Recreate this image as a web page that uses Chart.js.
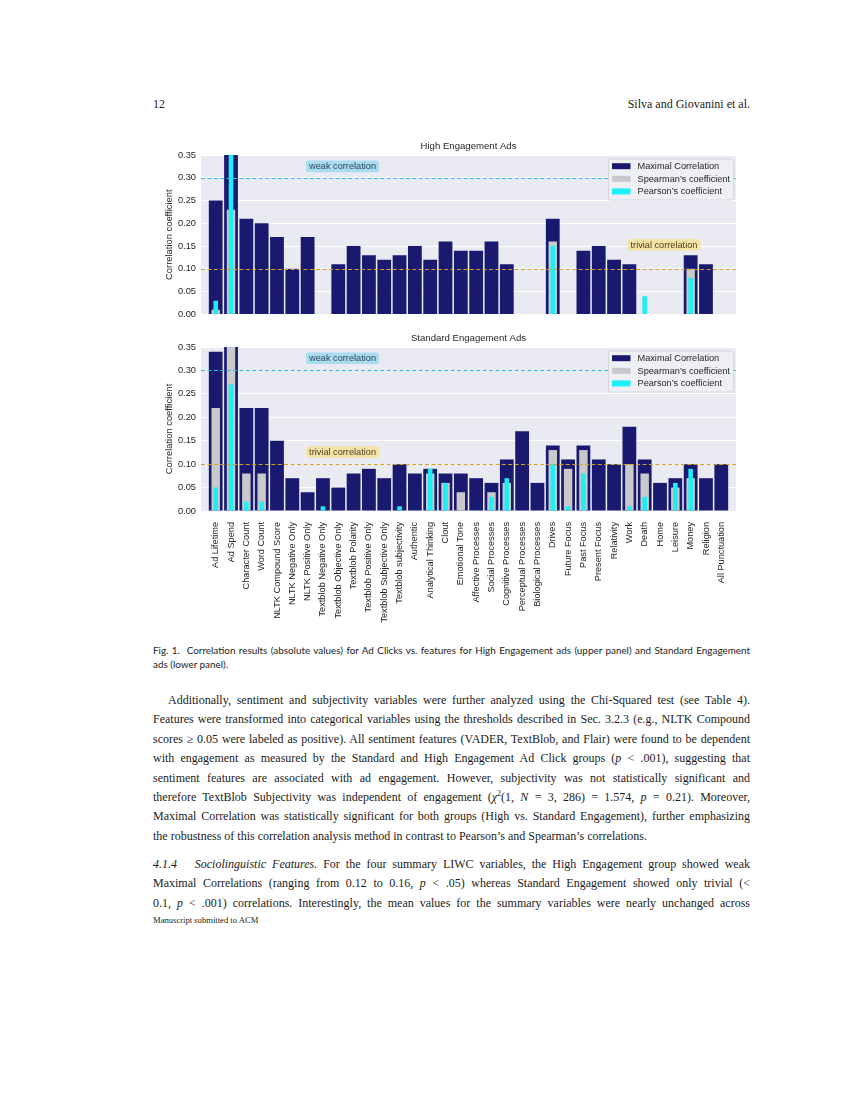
<!DOCTYPE html>
<html>
<head>
<meta charset="utf-8">
<script src="https://cdn.jsdelivr.net/npm/chart.js@4.4.1/dist/chart.umd.min.js"></script>
<style>
  body { margin: 0; width: 850px; height: 1100px; background: #fff; position: relative;
         font-family: "Liberation Serif", "DejaVu Serif", serif; color: #1b1b1b; }
  .abs { position: absolute; }
  canvas { position: absolute; }
  #top-chart { left: 150px; top: 133px; }
  #bottom-chart { left: 150px; top: 325px; }
  .runhead { top: 96px; font-size: 12px; line-height: 16px; }
  .caption { left: 153px; top: 643px; width: 597px; font-family: Lato, "Open Sans", sans-serif;
             font-size: 9.9px; line-height: 14.3px; }
  .text { left: 153px; width: 597px; font-size: 12px; line-height: 19.4px; }
  .j { text-align: justify; text-align-last: justify; }
  .footer { left: 153px; top: 913px; font-size: 8.6px; line-height: 14px; }
</style>
</head>
<body>
<div class="abs runhead" style="left:153px">12</div>
<div class="abs runhead" style="right:100px">Silva and Giovanini et al.</div>

<canvas id="top-chart" width="600" height="192"></canvas>
<canvas id="bottom-chart" width="600" height="302"></canvas>

<div class="abs caption">
  <div class="j">Fig. 1.&nbsp; Correlation results (absolute values) for Ad Clicks vs. features for High Engagement ads (upper panel) and Standard Engagement</div>
  <div>ads (lower panel).</div>
</div>

<div class="abs text" style="top:691px">
  <div class="j" style="padding-left:15px">Additionally, sentiment and subjectivity variables were further analyzed using the Chi-Squared test (see Table 4).</div>
  <div class="j">Features were transformed into categorical variables using the thresholds described in Sec. 3.2.3 (e.g., NLTK Compound</div>
  <div class="j">scores &ge; 0.05 were labeled as positive). All sentiment features (VADER, TextBlob, and Flair) were found to be dependent</div>
  <div class="j">with engagement as measured by the Standard and High Engagement Ad Click groups (<i>p</i> &lt; .001), suggesting that</div>
  <div class="j">sentiment features are associated with ad engagement. However, subjectivity was not statistically significant and</div>
  <div class="j">therefore TextBlob Subjectivity was independent of engagement (<i>&chi;</i><sup style="font-size:8px;line-height:0">2</sup>(1, <i>N</i> = 3, 286) = 1.574, <i>p</i> = 0.21). Moreover,</div>
  <div class="j">Maximal Correlation was statistically significant for both groups (High vs. Standard Engagement), further emphasizing</div>
  <div>the robustness of this correlation analysis method in contrast to Pearson&rsquo;s and Spearman&rsquo;s correlations.</div>
</div>

<div class="abs text" style="top:855px">
  <div class="j"><i>4.1.4&nbsp;&nbsp; Sociolinguistic Features.</i> For the four summary LIWC variables, the High Engagement group showed weak</div>
  <div class="j">Maximal Correlations (ranging from 0.12 to 0.16, <i>p</i> &lt; .05) whereas Standard Engagement showed only trivial (&lt;</div>
  <div class="j">0.1, <i>p</i> &lt; .001) correlations. Interestingly, the mean values for the summary variables were nearly unchanged across</div>
</div>
<div class="abs footer">Manuscript submitted to ACM</div>

<script>
// features on the x axis (same order in both panels)
const features = [
  'Ad Lifetime', 'Ad Spend', 'Character Count', 'Word Count', 'NLTK Compound Score',
  'NLTK Negative Only', 'NLTK Positive Only', 'Textblob Negative Only', 'Textblob Objective Only',
  'Textblob Polarity', 'Textblob Positive Only', 'Textblob Subjective Only', 'Textblob subjectivity',
  'Authentic', 'Analytical Thinking', 'Clout', 'Emotional Tone', 'Affective Processes',
  'Social Processes', 'Cognitive Processes', 'Perceptual Processes', 'Biological Processes',
  'Drives', 'Future Focus', 'Past Focus', 'Present Focus', 'Relativity', 'Work', 'Death',
  'Home', 'Leisure', 'Money', 'Religion', 'All Punctuation'
];

// High Engagement Ads (upper panel)
const highMaximal  = [0.25, 0.40, 0.21, 0.20, 0.17, 0.10, 0.17, 0, 0.11, 0.15, 0.13, 0.12, 0.13, 0.15, 0.12, 0.16, 0.14,
                      0.14, 0.16, 0.11, 0, 0, 0.21, 0, 0.14, 0.15, 0.12, 0.11, 0, 0, 0, 0.13, 0.11, 0];
const highSpearman = [0.01, 0.23, 0, 0, 0, 0, 0, 0, 0, 0, 0, 0, 0, 0, 0, 0, 0,
                      0, 0, 0, 0, 0, 0.16, 0, 0, 0, 0, 0, 0, 0, 0, 0.10, 0, 0];
const highPearson  = [0.03, 0.38, 0, 0, 0, 0, 0, 0, 0, 0, 0, 0, 0, 0, 0, 0, 0,
                      0, 0, 0, 0, 0, 0.15, 0, 0, 0, 0, 0, 0.04, 0, 0, 0.08, 0, 0];

// Standard Engagement Ads (lower panel)
const stdMaximal  = [0.34, 0.40, 0.22, 0.22, 0.15, 0.07, 0.04, 0.07, 0.05, 0.08, 0.09, 0.07, 0.10, 0.08, 0.09, 0.08, 0.08,
                     0.07, 0.06, 0.11, 0.17, 0.06, 0.14, 0.11, 0.14, 0.11, 0.10, 0.18, 0.11, 0.06, 0.07, 0.10, 0.07, 0.10];
const stdSpearman = [0.22, 0.38, 0.08, 0.08, 0, 0, 0, 0, 0, 0, 0, 0, 0, 0, 0.08, 0.06, 0.04,
                     0, 0.04, 0.06, 0, 0, 0.13, 0.09, 0.13, 0, 0, 0.10, 0.08, 0, 0.05, 0.07, 0, 0];
const stdPearson  = [0.05, 0.27, 0.02, 0.02, 0, 0, 0, 0.01, 0, 0, 0, 0, 0.01, 0, 0.09, 0.06, 0,
                     0, 0.03, 0.07, 0, 0, 0.10, 0.01, 0.08, 0, 0, 0.01, 0.03, 0, 0.06, 0.09, 0, 0];

// reference levels
const weakLevel = 0.30;
const trivialLevel = 0.10;

const SANS = '"Liberation Sans", Arial, sans-serif';
const INK = '#262626';
const NAVY = '#191970';
const GREY = '#c9c9c9';
const CYAN = '#1eeef6';

// background, threshold lines, notes, legend and title
const panelDecor = {
  id: 'panelDecor',
  beforeDraw(chart) {
    const { ctx, chartArea: a } = chart;
    ctx.save();
    ctx.fillStyle = '#eaeaf2';
    ctx.fillRect(a.left, a.top, a.right - a.left, a.bottom - a.top);
    ctx.restore();
  },
  afterDatasetsDraw(chart, args, opts) {
    const { ctx, chartArea: a, scales: { x, y } } = chart;

    ctx.save();
    ctx.beginPath();
    ctx.rect(a.left, a.top, a.right - a.left, a.bottom - a.top);
    ctx.clip();
    [[weakLevel, '#3ab6e8'], [trivialLevel, '#d4a02c']].forEach(([v, c]) => {
      const py = Math.round(y.getPixelForValue(v)) + 0.5;
      ctx.strokeStyle = c;
      ctx.lineWidth = 1.2;
      ctx.setLineDash([4, 2.4]);
      ctx.beginPath();
      ctx.moveTo(a.left, py);
      ctx.lineTo(a.right, py);
      ctx.stroke();
    });
    ctx.setLineDash([]);

    // notes
    ctx.font = `9.2px ${SANS}`;
    ctx.textBaseline = 'middle';
    opts.notes.forEach(n => {
      const w = ctx.measureText(n.text).width;
      const bx = x.getPixelForValue(n.x);
      const by = y.getPixelForValue(n.y);
      ctx.fillStyle = n.bg;
      ctx.beginPath();
      ctx.roundRect(bx, by - 5.8, w + 6, 11.6, 2.5);
      ctx.fill();
      ctx.fillStyle = n.fg;
      ctx.textAlign = 'left';
      ctx.fillText(n.text, bx + 3, by + 0.3);
    });

    // legend (inside the axes, upper right)
    const lw = 125, lh = 41;
    const lx = a.right - 3 - lw, ly = a.top + 3.5;
    ctx.fillStyle = 'rgba(239,239,245,0.95)';
    ctx.strokeStyle = '#d6d6df';
    ctx.lineWidth = 1;
    ctx.beginPath();
    ctx.roundRect(lx + 0.5, ly + 0.5, lw, lh, 2);
    ctx.fill();
    ctx.stroke();
    chart.data.datasets.forEach((ds, i) => {
      const ry = ly + 7.7 + i * 12.6;
      ctx.fillStyle = ds.backgroundColor;
      ctx.fillRect(lx + 4, ry - 3, 18.5, 6);
      ctx.fillStyle = INK;
      ctx.textAlign = 'left';
      ctx.fillText(ds.label, lx + 29.5, ry + 0.5);
    });
    ctx.restore();

    // panel title
    ctx.save();
    ctx.font = `9.6px ${SANS}`;
    ctx.fillStyle = INK;
    ctx.textAlign = 'center';
    ctx.textBaseline = 'middle';
    ctx.fillText(opts.title, (a.left + a.right) / 2, a.top - 8.5);
    ctx.restore();
  }
};

function makePanel(canvasId, title, maximal, spearman, pearson, notes, showLabels) {
  const pts = arr => arr.map((v, i) => ({ x: i, y: v }));
  return new Chart(document.getElementById(canvasId), {
    type: 'bar',
    data: {
      datasets: [
        { label: 'Maximal Correlation', data: pts(maximal), backgroundColor: NAVY,
          barPercentage: 0.9, categoryPercentage: 1, grouped: false, order: 3 },
        { label: 'Spearman\u2019s coefficient', data: pts(spearman), backgroundColor: GREY,
          barPercentage: 0.55, categoryPercentage: 1, grouped: false, order: 2 },
        { label: 'Pearson\u2019s coefficient', data: pts(pearson), backgroundColor: CYAN,
          barPercentage: 0.3, categoryPercentage: 1, grouped: false, order: 1 }
      ]
    },
    options: {
      responsive: false,
      animation: false,
      layout: { padding: { left: 10, right: 14, top: 22, bottom: showLabels ? 0 : 7 } },
      plugins: {
        legend: { display: false },
        tooltip: { enabled: false },
        title: { display: false },
        panelDecor: { title, notes }
      },
      scales: {
        x: {
          type: 'linear',
          display: showLabels,
          offset: false,
          min: -0.96,
          max: 33.96,
          grid: { display: false },
          border: { display: false },
          afterBuildTicks: axis => { axis.ticks = features.map((f, i) => ({ value: i })); },
          afterFit: axis => { axis.height = showLabels ? 116 : 0; },
          ticks: {
            autoSkip: false,
            maxRotation: 90,
            minRotation: 90,
            padding: 3,
            color: INK,
            font: { family: SANS, size: 9.2 },
            callback: v => features[v]
          }
        },
        y: {
          min: 0,
          max: 0.35,
          afterFit: axis => { axis.width = 41; },
          grid: { color: '#ffffff', lineWidth: 1, drawTicks: false },
          border: { display: false },
          ticks: {
            stepSize: 0.05,
            padding: 5,
            color: INK,
            font: { family: SANS, size: 9.3 },
            callback: v => Number(v).toFixed(2)
          },
          title: {
            display: true,
            text: 'Correlation coefficient',
            color: INK,
            font: { family: SANS, size: 9.4 },
            padding: { top: 4, bottom: 2 }
          }
        }
      }
    },
    plugins: [panelDecor]
  });
}

makePanel('top-chart', 'High Engagement Ads', highMaximal, highSpearman, highPearson, [
  { text: 'weak correlation', x: 5.9, y: 0.325, bg: '#a9dcf1', fg: '#2c4856' },
  { text: 'trivial correlation', x: 26.88, y: 0.153, bg: '#f4e3a6', fg: '#4e4220' }
], false);

makePanel('bottom-chart', 'Standard Engagement Ads', stdMaximal, stdSpearman, stdPearson, [
  { text: 'weak correlation', x: 5.9, y: 0.326, bg: '#a9dcf1', fg: '#2c4856' },
  { text: 'trivial correlation', x: 5.9, y: 0.126, bg: '#f4e3a6', fg: '#4e4220' }
], true);
</script>
</body>
</html>
